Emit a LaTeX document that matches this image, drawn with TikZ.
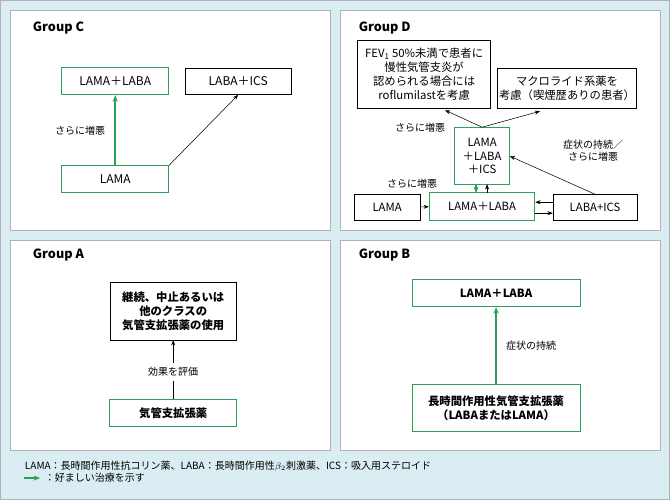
\documentclass[tikz,border=0pt]{standalone}
\usepackage{fontspec}
\setmainfont{Noto Sans CJK JP}
\usetikzlibrary{arrows.meta,positioning}
\definecolor{bgblue}{HTML}{D9EDF3}
\definecolor{okgreen}{HTML}{2E9E5B}
\tikzset{
  panel/.style = {draw=gray!60, fill=white},
  title/.style = {anchor=west, font=\fontsize{9.5}{11}\selectfont\bfseries},
  basic/.style = {draw, rectangle, thin, align=center, inner sep=1pt,
    font=\fontsize{9}{10.5}\selectfont},
  gbox/.style  = {basic, draw=okgreen, line width=0.8pt},
  lbl/.style   = {font=\fontsize{7.5}{9}\selectfont, align=center},
  arr/.style   = {-{Stealth[length=4pt]}, thin},
  garr/.style  = {-{Stealth[length=5pt]}, okgreen, line width=1.2pt}
}
\begin{document}
\begin{tikzpicture}[x=0.75pt, y=-0.75pt]
\fill[bgblue, draw=gray!60] (0,0) rectangle (669,499);
\useasboundingbox (0,0) rectangle (670,500);

% panels
\draw[panel] (10,10) rectangle (330,230);
\draw[panel] (340,10) rectangle (660,230);
\draw[panel] (10,240) rectangle (330,450);
\draw[panel] (340,240) rectangle (660,450);

% Group C
\node[title] (tc) at (28,28) {Group C};
\node[gbox, minimum width=80pt, minimum height=20pt] (c1) at (115,81) {LAMA＋LABA};
\node[basic, minimum width=80pt, minimum height=20pt] (c2) at (238,81) {LABA＋ICS};
\node[gbox, minimum width=80pt, minimum height=20pt] (c3) at (115,179) {LAMA};
\node[lbl] (cl) at (80,130) {さらに増悪};
\draw[garr] (c3.north) -- (c1.south);
\draw[arr] (c3.north east) -- (c2.south);

% Group D
\node[title] (td) at (354,28) {Group D};
\node[basic, minimum width=100pt, minimum height=51pt, font=\fontsize{8.5}{10.5}\selectfont] (d1) at (424,74)
  {FEV\textsubscript{1} 50\%未満で患者に\\慢性気管支炎が\\認められる場合には\\roflumilastを考慮};
\node[basic, minimum width=95pt, minimum height=30pt, font=\fontsize{8.5}{10.5}\selectfont] (d2) at (567,88)
  {マクロライド系薬を\\考慮（喫煙歴ありの患者）};
\node[gbox, minimum width=41pt, minimum height=43pt, font=\fontsize{8.5}{10}\selectfont] (d3) at (482,156)
  {LAMA\\＋LABA\\＋ICS};
\node[basic, minimum width=49pt, minimum height=19pt, font=\fontsize{8.5}{10}\selectfont] (d4) at (387,207) {LAMA};
\node[gbox, minimum width=79pt, minimum height=21pt, font=\fontsize{8.5}{10}\selectfont] (d5) at (482,206) {LAMA＋LABA};
\node[basic, minimum width=63pt, minimum height=19pt, font=\fontsize{8.5}{10}\selectfont] (d6) at (595,207) {LABA+ICS};
\node[lbl] (dl1) at (420,127) {さらに増悪};
\node[lbl] (dl2) at (412,183) {さらに増悪};
\node[lbl] (dl3) at (593,150) {症状の持続／\\さらに増悪};
\coordinate (dtop) at (482,127);
\draw[arr] (dtop) -- (445,110);
\draw[arr] (dtop) -- (540,111);
\draw[garr] (476,185) -- (476,193);
\draw[arr] (487,193) -- (487,184);
\draw[arr] (d4) -- (d5);
\draw[arr] (d6.west|-0,202) -- (d5.east|-0,202);
\draw[arr] (d5.east|-0,213) -- (d6.west|-0,213);
\draw[arr] (d6.north) -- (d3.east);

% Group A
\node[title] (ta) at (28,255) {Group A};
\node[basic, minimum width=95pt, minimum height=43pt, font=\fontsize{8.5}{10.5}\selectfont\bfseries] (a1) at (173,311)
  {継続、中止あるいは\\他のクラスの\\気管支拡張薬の使用};
\node[gbox, minimum width=95pt, minimum height=20pt, font=\fontsize{8.5}{10}\selectfont\bfseries] (a2) at (173,413) {気管支拡張薬};
\node[lbl, fill=white] (al) at (173,372) {効果を評価};
\draw[thin] (a2.north) -- (al.south);
\draw[arr] (al.north) -- (a1.south);

% Group B
\node[title] (tb) at (354,255) {Group B};
\node[gbox, minimum width=126pt, minimum height=20pt, font=\fontsize{8.5}{10}\selectfont\bfseries] (b1) at (496,293) {LAMA＋LABA};
\node[gbox, minimum width=126pt, minimum height=35pt, font=\fontsize{8.5}{10.5}\selectfont\bfseries] (b2) at (496,408)
  {長時間作用性気管支拡張薬\\（LABAまたはLAMA）};
\node[lbl] (bl) at (531,346) {症状の持続};
\draw[garr] (b2.north) -- (b1.south);

% legend
\node[anchor=west, font=\fontsize{7.5}{9}\selectfont] (leg1) at (20,466)
  {LAMA：長時間作用性抗コリン薬、LABA：長時間作用性$\beta_2$刺激薬、ICS：吸入用ステロイド};
\coordinate (lg) at (24,478);
\node[anchor=west, font=\fontsize{7.5}{9}\selectfont] (leg2) at (40,478) {：好ましい治療を示す};
\draw[garr] (lg) -- (leg2.west);
\end{tikzpicture}
\end{document}
